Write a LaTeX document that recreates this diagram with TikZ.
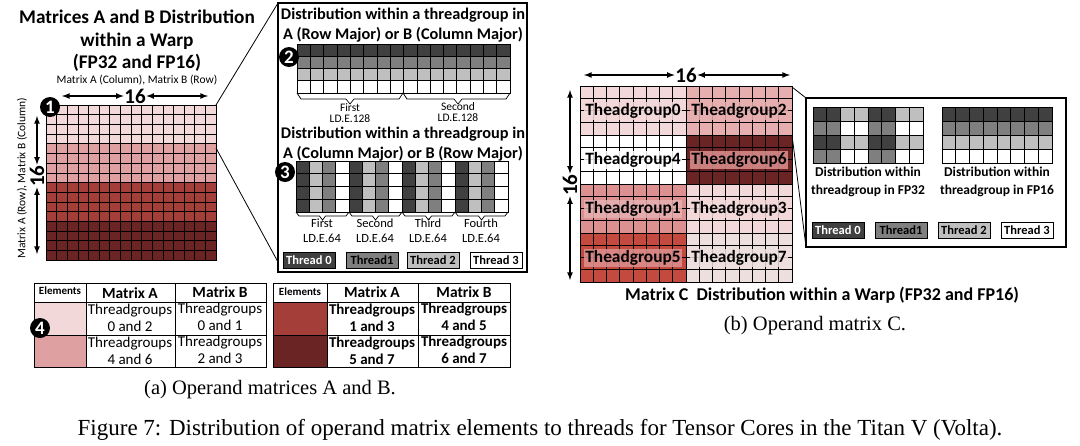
\documentclass[tikz,border=0pt]{standalone}
\usepackage{fontspec}
\setmainfont{Carlito}
\newfontfamily\capfont{Liberation Serif}
\begin{document}
\begin{tikzpicture}[x=1pt,y=-1pt,
 cell/.style={draw=black,line width=0.6pt},
 num/.style={circle,fill=black,text=white,font=\bfseries\fontsize{19}{19}\selectfont,inner sep=0pt,minimum size=20pt},
 ttl/.style={font=\bfseries\fontsize{16.3}{19.5}\selectfont,align=center},
 small/.style={font=\fontsize{11.5}{13}\selectfont,align=center,inner sep=0pt},
 lbl/.style={font=\fontsize{12.5}{15}\selectfont,align=center,inner sep=0pt},
 leg/.style={draw=black,line width=0.8pt,minimum width=52pt,minimum height=16pt,inner sep=0pt,font=\bfseries\fontsize{12.5}{12.5}\selectfont},
 tg/.style={font=\bfseries\fontsize{17.3}{17.3}\selectfont,inner sep=1pt,fill opacity=0.85,text opacity=1},
 hdr/.style={font=\bfseries\fontsize{15.5}{15.5}\selectfont},
 tcn/.style={font=\fontsize{15}{16.5}\selectfont,align=center},
 tcb/.style={font=\bfseries\fontsize{15}{16.5}\selectfont,align=center},
 big/.style={font=\bfseries\fontsize{21}{21}\selectfont,fill=white,inner sep=0.5pt},
 arr/.style={line width=1.6pt,<->,>=latex}]
\definecolor{p1}{HTML}{F2D8D8}\definecolor{p2}{HTML}{DEA0A0}
\definecolor{p3}{HTML}{A33F38}\definecolor{p4}{HTML}{6A2424}
\definecolor{q2}{HTML}{E6AEAE}\definecolor{q1}{HTML}{DC9090}\definecolor{q5}{HTML}{C44A40}
\definecolor{q7}{HTML}{EEDFDF}
\definecolor{t0}{HTML}{404040}\definecolor{t1}{HTML}{7F7F7F}\definecolor{t2}{HTML}{BFBFBF}
\useasboundingbox (0,0) rectangle (1080,445);
\fill[white] (0,0) rectangle (1080,445);
% ---------- left title
\node[ttl,font=\bfseries\fontsize{19.3}{22.5}\selectfont] (title) at (137,41) {Matrices A and B Distribution\\within a Warp\\(FP32 and FP16)};
\node[small] (ab) at (137,80) {Matrix A (Column), Matrix B (Row)};
\foreach \r in {0,...,15}{
 \pgfmathsetmacro\c{\r<4?"p1":(\r<8?"p2":(\r<12?"p3":"p4"))}
 \foreach \k in {0,...,15}{
  \draw[cell,fill=\c] (46+\k*10.625,105+\r*9.6875) rectangle ++(10.625,9.6875);}}
\coordinate (gA1) at (216,105); \coordinate (gA2) at (216,148);
\node[big] (h16) at (135,96) {16};
\draw[arr] (62,96) -- (h16.west); \draw[arr] (h16.east) -- (208,96);
\node[big,rotate=90] (v16) at (37,176) {16};
\draw[arr] (37,116) -- (v16.east); \draw[arr] (v16.west) -- (37,254);
\node[small,rotate=90] (abv) at (22,178) {Matrix A (Row), Matrix B (Column)};
\node[num] (n1) at (50,107) {1};
% ---------- inset box
\draw[line width=1.2pt] (278,3) rectangle (527,272);
\coordinate (bx1) at (278,3); \coordinate (bx2) at (278,262);
\draw[line width=0.8pt] (gA1) -- (bx1); \draw[line width=0.8pt] (gA2) -- (bx2);
\node[ttl] (t2) at (403,25) {Distribution within a threadgroup in\\A (Row Major) or B (Column Major)};
\foreach \r/\c in {0/t0,1/t1,2/t2,3/white}{
 \foreach \k in {0,...,15}{
  \draw[cell,fill=\c] (297+\k*13.3125,44+\r*12.25) rectangle ++(13.3125,12.25);}}
\node[num] (n2) at (289,57) {2};
\draw[line width=0.7pt] (297,93) -- (301,99) -- (346,99) -- (350,104) -- (354,99) -- (399,99) -- (403,93) -- (407,99) -- (454,99) -- (458,104) -- (462,99) -- (506,99) -- (510,93);
\node[lbl,font=\fontsize{11.5}{11.5}\selectfont] (f1) at (350,113) {First\\LD.E.128};
\node[lbl,font=\fontsize{11.5}{11.5}\selectfont] (f2) at (458,112) {Second\\LD.E.128};
\node[ttl] (t3) at (403,144) {Distribution within a threadgroup in\\A (Column Major) or B (Row Major)};
\foreach \g in {0,...,3}{
 \foreach \j/\c in {0/t0,1/t2,2/t1,3/white}{
  \foreach \r in {0,...,3}{
   \draw[cell,fill=\c] (296+\g*53+\j*13.25,161+\r*12.75) rectangle ++(13.25,12.75);}}
 \draw[line width=0.7pt] (296+\g*53,212) -- (299+\g*53,216) -- (319.5+\g*53,216) -- (322.5+\g*53,220) -- (325.5+\g*53,216) -- (346+\g*53,216) -- (349+\g*53,212);}
\node[num] (n3) at (285,172) {3};
\node[lbl] (l1) at (322,231) {First\\LD.E.64};
\node[lbl] (l2) at (375,231) {Second\\LD.E.64};
\node[lbl] (l3) at (428,231) {Third\\LD.E.64};
\node[lbl] (l4) at (481,231) {Fourth\\LD.E.64};
\node[leg,fill=t0,text=white] (a0) at (309,260) {Thread 0};
\node[leg,fill=t1] (a1) at (372,260) {Thread1};
\node[leg,fill=t2] (a2) at (433,260) {Thread 2};
\node[leg,fill=white] (a3) at (496,260) {Thread 3};
% ---------- tables
\begin{scope}[line width=0.8pt]
\draw (34,283) rectangle (266,367); \draw (86,283)--(86,367); \draw (175,283)--(175,367);
\draw (34,302)--(266,302); \draw (34,335)--(266,335);
\fill[p1,draw=black] (34,302) rectangle (86,335); \fill[p2,draw=black] (34,335) rectangle (86,367);
\draw (273,283) rectangle (510,367); \draw (327,283)--(327,367); \draw (418,283)--(418,367);
\draw (273,302)--(510,302); \draw (273,335)--(510,335);
\fill[p3,draw=black] (273,302) rectangle (327,335); \fill[p4,draw=black] (273,335) rectangle (327,367);
\end{scope}
\node[font=\bfseries\fontsize{11}{11}\selectfont] (e1) at (60,291) {Elements};
\node[hdr] (ma1) at (130,293) {Matrix A};
\node[hdr] (mb1) at (220,292) {Matrix B};
\node[tcn] (c11) at (130,318) {Threadgroups\\0 and 2};
\node[tcn] (c12) at (220,317) {Threadgroups\\0 and 1};
\node[tcn] (c21) at (130,351) {Threadgroups\\4 and 6};
\node[tcn] (c22) at (220,350) {Threadgroups\\2 and 3};
\node[num] (n4) at (40,328) {4};
\node[font=\bfseries\fontsize{11}{11}\selectfont] (e2) at (300,292) {Elements};
\node[hdr] (ma2) at (372,292) {Matrix A};
\node[hdr] (mb2) at (464,292) {Matrix B};
\node[tcb] (d11) at (372,318) {Threadgroups\\1 and 3};
\node[tcb] (d12) at (464,317) {Threadgroups\\4 and 5};
\node[tcb] (d21) at (372,351) {Threadgroups\\5 and 7};
\node[tcb] (d22) at (464,350) {Threadgroups\\6 and 7};
\node[font=\capfont\fontsize{20.5}{20.5}\selectfont] (capa) at (270,390) {(a) Operand matrices A and B.};
% ---------- matrix C
\foreach \qx/\qy/\c in {0/0/p1,1/0/q2,0/1/white,1/1/p4,0/2/q1,1/2/p1,0/3/q5,1/3/q7}{
 \foreach \r in {0,...,3}{\foreach \k in {0,...,7}{
  \draw[cell,fill=\c] (580+\qx*106+\k*13.25,86+\qy*49+\r*12.25) rectangle ++(13.25,12.25);}}}
\draw[line width=1pt] (580,86) rectangle (792,282); \draw[line width=1pt] (686,86)--(686,282);
\node[tg,fill=p1] (g0) at (633,111) {Theadgroup0};
\node[tg,fill=q2] (g2) at (739,111) {Theadgroup2};
\node[tg,fill=white] (g4) at (633,160) {Theadgroup4};
\node[tg,fill=q1] (g6) at (739,160) {Theadgroup6};
\node[tg,fill=q1!70!white] (g1) at (633,209) {Theadgroup1};
\node[tg,fill=p1] (g3) at (739,209) {Theadgroup3};
\node[tg,fill=q1] (g5) at (633,258) {Theadgroup5};
\node[tg,fill=q7] (g7) at (739,258) {Theadgroup7};
\node[big] (ch16) at (686,75) {16};
\draw[arr] (584,75) -- (ch16.west); \draw[arr] (ch16.east) -- (790,75);
\node[big,rotate=90] (cv16) at (570,185) {16};
\draw[arr] (570,90) -- (cv16.east); \draw[arr] (cv16.west) -- (570,280);
\node[font=\bfseries\fontsize{18}{18}\selectfont] (capc) at (822,295) {Matrix C\ \ Distribution within a Warp (FP32 and FP16)};
% inset C
\draw[line width=1.2pt] (806,98) rectangle (1066,247);
\coordinate (cg1) at (792,87); \coordinate (cg2) at (792,135);
\coordinate (cb1) at (806,98); \coordinate (cb2) at (806,247);
\draw[line width=0.8pt] (cg1) -- (cb1); \draw[line width=0.8pt] (cg2) -- (cb2);
\foreach \r/\ca/\cb in {0/t0/t2,1/t1/white,2/t0/t2,3/t1/white}{
 \foreach \k/\c in {0/\ca,1/\ca,2/\cb,3/\cb,4/\ca,5/\ca,6/\cb,7/\cb}{
  \draw[cell,fill=\c] (813+\k*13.75,107+\r*14) rectangle ++(13.75,14);}}
\foreach \r/\c in {0/t0,1/t1,2/t2,3/white}{
 \foreach \k in {0,...,7}{
  \draw[cell,fill=\c] (942+\k*13.75,107+\r*14) rectangle ++(13.75,14);}}
\node[font=\bfseries\fontsize{13.5}{18}\selectfont,align=center] (d32) at (868,182) {Distribution within\\threadgroup in FP32};
\node[font=\bfseries\fontsize{13.5}{18}\selectfont,align=center] (d16) at (997,182) {Distribution within\\threadgroup in FP16};
\node[leg,fill=t0,text=white] (b0) at (838,230) {Thread 0};
\node[leg,fill=t1] (b1) at (901,230) {Thread1};
\node[leg,fill=t2] (b2) at (964,230) {Thread 2};
\node[leg,fill=white] (b3) at (1027,230) {Thread 3};
\node[font=\capfont\fontsize{20.5}{20.5}\selectfont] (capb) at (815,326) {(b) Operand matrix C.};
\node[font=\capfont\fontsize{23}{23}\selectfont] (fig) at (540,430) {Figure 7: Distribution of operand matrix elements to threads for Tensor Cores in the Titan V (Volta).};
\end{tikzpicture}
\end{document}
